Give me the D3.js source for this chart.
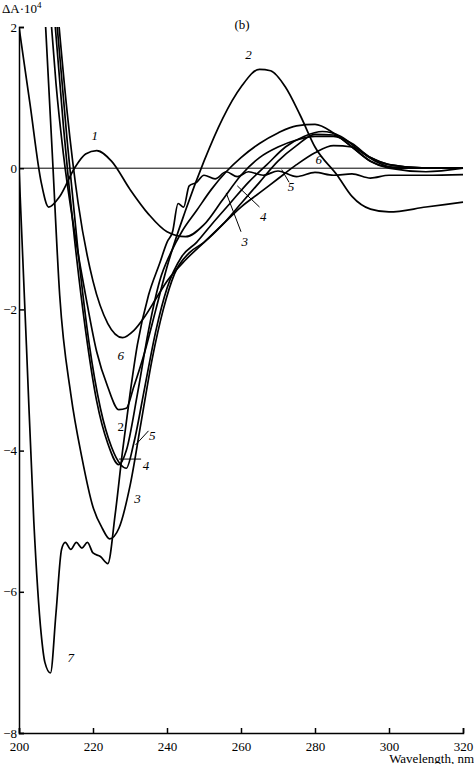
<!DOCTYPE html>
<html><head><meta charset="utf-8">
<script src="https://cdn.jsdelivr.net/npm/d3@7"></script>
<style>body{margin:0;background:#fff}text{font-family:"Liberation Serif","DejaVu Serif",serif}</style>
</head><body><svg id="c" width="474" height="764"></svg>
<script>
// spectra (wavelength nm, dA*1e4)
const w1 = [200,203,206,208,211,215,218,221,225,230,235,240,245,250,255,260,265,270,275,280,285,290,295,300,310,320];
const c1 = [2.0,0.9,-0.2,-0.55,-0.4,0.0,0.2,0.25,0.1,-0.3,-0.65,-0.9,-0.97,-0.8,-0.45,-0.1,0.15,0.3,0.4,0.45,0.45,0.35,0.15,0.05,0.0,0.0];
const w2 = [208.5,210,212,215,218,221,224,227,229,231,234,237,240,245,250,255,260,265,268,272,276,280,286,290,295,300,310,320];
const c2 = [2.2,1.2,0.2,-0.9,-1.8,-2.6,-3.1,-3.42,-3.4,-3.1,-2.6,-2.0,-1.4,-0.6,0.1,0.7,1.15,1.4,1.38,1.15,0.75,0.3,-0.1,-0.4,-0.58,-0.62,-0.55,-0.48];
const w3 = [207,209,211,214,217,220,222.5,224.5,227,230,233,236,239,242,246,250,255,260,265,270,275,280,285,290,295,300,310,320];
const c3 = [2.2,0.2,-1.8,-3.2,-4.1,-4.8,-5.1,-5.25,-5.1,-4.5,-3.6,-2.7,-2.0,-1.5,-1.2,-1.05,-0.8,-0.5,-0.2,0.1,0.32,0.48,0.47,0.3,0.1,0.0,-0.05,0.0];
const w4 = [209.5,212,215,218,221,224,227,229,232,235,238,241,244,248,252,256,260,265,270,275,280,285,290,295,300,310,320];
const c4 = [2.2,0.6,-1.0,-2.3,-3.3,-3.9,-4.2,-4.0,-3.2,-2.3,-1.6,-1.2,-0.9,-0.6,-0.3,-0.05,0.15,0.35,0.5,0.6,0.62,0.5,0.3,0.1,0.02,0.0,0.0];
const w5 = [210,213,216,219,222,225,227.5,229,231,234,237,240,244,248,252,257,262,267,272,277,282,287,292,297,302,310,320];
const c5 = [2.2,0.4,-1.2,-2.5,-3.4,-3.95,-4.2,-4.25,-3.9,-3.1,-2.3,-1.7,-1.25,-1.05,-0.8,-0.5,-0.2,0.05,0.3,0.45,0.52,0.45,0.25,0.08,0.0,0.0,0.0];
const w6 = [210.5,213,216,220,224,228,231,234,237,240,245,250,255,260,265,270,275,280,285,290,295,300,310,320];
const c6 = [2.2,0.8,-0.5,-1.6,-2.2,-2.4,-2.3,-2.1,-1.85,-1.6,-1.3,-1.05,-0.8,-0.55,-0.35,-0.15,0.05,0.22,0.32,0.3,0.15,0.05,0.0,0.0];
const w7 = [200,202,204,206,207,208.5,210,211.5,212.5,214,215.5,217,218.5,220,222,224,226,228,230,232,235,238,240,241.5,243,244.5,246,248,250,253,256,259,262,266,270,275,280,285,290,295,300,310,320];
const c7 = [0,-2.5,-5,-6.6,-7.0,-7.15,-6.3,-5.4,-5.3,-5.4,-5.3,-5.38,-5.3,-5.45,-5.5,-5.6,-4.9,-4.0,-3.2,-2.5,-1.8,-1.35,-1.05,-0.9,-0.5,-0.55,-0.25,-0.2,-0.1,-0.15,-0.05,-0.12,-0.05,-0.1,-0.04,-0.12,-0.06,-0.1,-0.08,-0.14,-0.1,-0.1,-0.09];
const xTicks = [200,220,240,260,280,300,320];
const yTicks = [2,0,-2,-4,-6,-8];
const labels = [
  {t:"1",x:220.5,y:0.4,i:true},{t:"2",x:262,y:1.55,i:true},{t:"2",x:227.5,y:-3.72,i:false},
  {t:"6",x:227.5,y:-2.72,i:true},{t:"6",x:281,y:0.06,i:true},{t:"5",x:273.5,y:-0.32,i:true},
  {t:"4",x:266,y:-0.75,i:true},{t:"3",x:261,y:-1.1,i:true},{t:"5",x:236,y:-3.85,i:true},
  {t:"4",x:234.3,y:-4.27,i:true},{t:"3",x:232,y:-4.74,i:true},{t:"7",x:214,y:-7.0,i:true}
];

const svg = d3.select("#c");
const x = d3.scaleLinear().domain([200,320]).range([19,463]);
const y = d3.scaleLinear().domain([-8,2]).range([733,27]);

svg.append("clipPath").attr("id","cl").append("rect")
  .attr("x",19).attr("y",27).attr("width",455).attr("height",706);

svg.append("g").attr("transform","translate(0,733)")
  .call(d3.axisBottom(x).tickValues(xTicks).tickSize(-5).tickFormat(d3.format("d")))
  .call(g=>g.selectAll("text").attr("dy","1.15em").attr("font-size",13).attr("fill","#000"))
  .call(g=>g.selectAll("path,line").attr("stroke","#000").attr("stroke-width",1.5));
svg.append("g").attr("transform","translate(19,0)")
  .call(d3.axisLeft(y).tickValues(yTicks).tickSize(-5).tickFormat(d=>d<0?"\u2212"+(-d):d))
  .call(g=>g.selectAll("text").attr("x",-2).attr("font-size",13).attr("fill","#000"))
  .call(g=>g.selectAll("path,line").attr("stroke","#000").attr("stroke-width",1.5));
svg.append("line").attr("x1",19).attr("x2",463).attr("y1",y(0)).attr("y2",y(0)).attr("stroke","#000");

const line = d3.line().curve(d3.curveMonotoneX);
[[w1,c1],[w2,c2],[w3,c3],[w4,c4],[w5,c5],[w6,c6],[w7,c7]].forEach(([w,c])=>{
  svg.append("path").attr("clip-path","url(#cl)")
    .attr("d",line(w.map((v,i)=>[x(v),y(c[i])])))
    .attr("fill","none").attr("stroke","#000").attr("stroke-width",1.7);
});

// leader lines from labels to curves
svg.append("line").attr("x1",x(227)).attr("y1",y(-4.12)).attr("x2",x(233)).attr("y2",y(-4.12)).attr("stroke","#000");
svg.append("line").attr("x1",x(231.5)).attr("y1",y(-3.92)).attr("x2",x(235)).attr("y2",y(-3.72)).attr("stroke","#000");
svg.append("line").attr("x1",x(256)).attr("y1",y(-0.35)).attr("x2",x(260)).attr("y2",y(-0.9)).attr("stroke","#000");
svg.append("line").attr("x1",x(259)).attr("y1",y(-0.25)).attr("x2",x(265)).attr("y2",y(-0.55)).attr("stroke","#000");
svg.append("line").attr("x1",x(271)).attr("y1",y(-0.02)).attr("x2",x(273)).attr("y2",y(-0.2)).attr("stroke","#000");

svg.selectAll(".lb").data(labels).join("text")
  .attr("x",d=>x(d.x)).attr("y",d=>y(d.y)).attr("text-anchor","middle")
  .attr("font-size",13).attr("font-style",d=>d.i?"italic":"normal").text(d=>d.t);

svg.append("text").attr("x",242).attr("y",29).attr("text-anchor","middle").attr("font-size",13).text("(b)");
svg.append("text").attr("x",2).attr("y",13).attr("font-size",13)
  .html('ΔA·10<tspan dy="-5" font-size="9">4</tspan>');
svg.append("text").attr("x",474).attr("y",763).attr("text-anchor","end").attr("font-size",13).text("Wavelength, nm");
</script></body></html>
